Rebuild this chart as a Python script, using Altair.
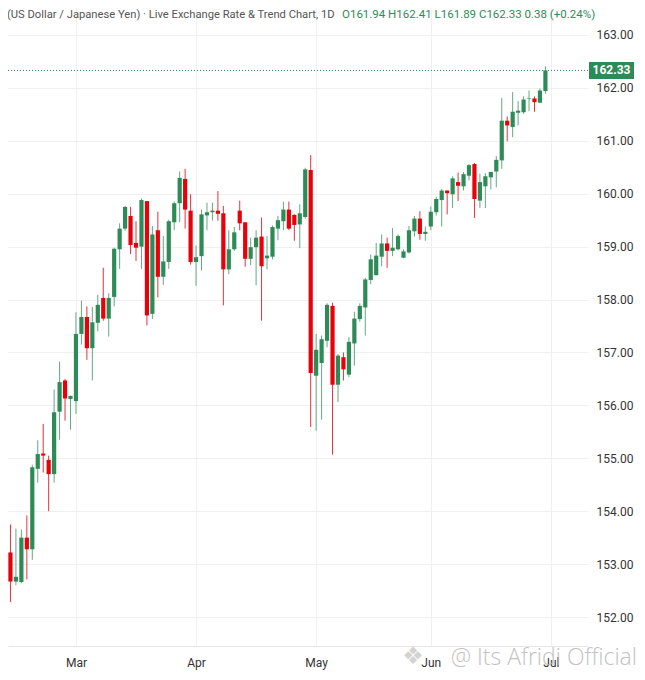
import altair as alt
import pandas as pd

# ---- data (one entry per daily candle) ----
opens = [153.22, 152.67, 152.66, 153.50, 153.28, 154.80, 155.09, 154.97, 154.70, 155.88,
         156.47, 156.12, 156.08, 157.35, 157.67, 157.08, 157.56, 158.03, 157.64, 158.05,
         158.95, 159.34, 159.58, 159.07, 159.00, 159.86, 157.73, 159.31, 158.43, 158.71,
         159.46, 159.82, 160.28, 159.68, 158.71, 158.82, 159.59, 159.65, 159.68, 159.63,
         158.57, 158.95, 159.68, 159.46, 158.77, 158.99, 159.19, 158.78, 158.81, 159.34,
         159.48, 159.70, 159.60, 159.42, 159.56, 160.45, 156.56, 156.80, 157.22, 157.88,
         156.39, 156.91, 156.58, 157.17, 157.63, 157.85, 158.37, 158.46, 158.81, 159.06,
         158.92, 158.95, 158.79, 158.89, 159.29, 159.53, 159.24, 159.38, 159.65, 159.88,
         160.06, 159.99, 160.22, 160.14, 160.34, 160.56, 159.87, 160.14, 160.31, 160.42,
         160.63, 161.38, 161.26, 161.53, 161.54, 161.79, 161.80, 161.72, 161.94]
highs = [153.75, 153.67, 153.65, 153.92, 154.88, 155.34, 155.65, 155.05, 156.30, 156.83,
         156.50, 156.18, 157.76, 157.98, 157.87, 157.86, 158.09, 158.60, 158.12, 158.98,
         159.44, 159.77, 159.75, 159.48, 159.91, 159.86, 159.39, 159.66, 159.20, 159.51,
         159.85, 160.42, 160.47, 159.99, 159.02, 159.70, 159.83, 159.83, 160.05, 159.77,
         159.31, 159.37, 159.87, 159.46, 159.17, 159.31, 159.55, 159.20, 159.40, 159.58,
         159.85, 159.85, 159.61, 159.80, 160.49, 160.73, 157.35, 157.32, 157.93, 157.94,
         156.97, 157.00, 157.29, 157.77, 157.93, 158.41, 158.85, 159.07, 159.23, 159.17,
         159.35, 159.23, 158.95, 159.39, 159.58, 159.67, 159.38, 159.76, 159.94, 160.09,
         160.06, 160.33, 160.40, 160.41, 160.56, 160.58, 160.38, 160.39, 160.41, 160.71,
         161.81, 161.46, 161.92, 161.75, 161.84, 161.95, 161.84, 161.99, 162.41]
lows = [152.28, 152.60, 152.64, 152.71, 153.08, 154.54, 154.73, 154.00, 154.54, 155.35,
        155.71, 155.54, 155.84, 157.15, 156.86, 156.47, 157.40, 157.60, 157.30, 157.87,
        158.58, 159.30, 158.86, 158.73, 158.58, 157.51, 157.63, 158.04, 158.28, 158.58,
        159.31, 159.46, 159.34, 158.66, 158.26, 158.55, 159.31, 159.49, 159.49, 157.89,
        158.48, 158.92, 159.31, 158.62, 158.65, 158.27, 157.60, 158.57, 158.76, 159.12,
        159.31, 159.31, 159.11, 158.97, 159.53, 155.59, 155.52, 155.73, 157.10, 155.07,
        156.06, 156.47, 156.53, 156.75, 157.58, 157.32, 158.29, 158.46, 158.63, 158.60,
        158.82, 158.93, 158.78, 158.87, 159.19, 159.13, 159.11, 159.31, 159.59, 159.38,
        159.61, 159.73, 159.86, 160.06, 160.25, 159.54, 159.73, 159.73, 160.08, 160.12,
        160.47, 160.99, 161.07, 161.29, 161.51, 161.56, 161.55, 161.72, 161.89]
closes = [152.67, 152.76, 153.50, 153.28, 154.83, 155.08, 155.05, 154.70, 155.87, 156.44,
          156.13, 156.18, 157.35, 157.67, 157.08, 157.57, 157.90, 157.64, 158.03, 158.96,
          159.34, 159.75, 159.03, 158.98, 159.88, 157.70, 159.23, 158.43, 158.72, 159.48,
          159.82, 160.30, 159.70, 158.71, 158.80, 159.61, 159.65, 159.68, 159.62, 158.57,
          158.95, 159.27, 159.44, 158.77, 158.99, 159.17, 158.63, 158.83, 159.37, 159.50,
          159.70, 159.34, 159.41, 159.63, 160.46, 156.61, 157.05, 157.25, 157.90, 156.39,
          156.94, 156.68, 157.20, 157.64, 157.88, 158.38, 158.76, 158.83, 159.06, 158.92,
          158.98, 159.20, 158.91, 159.31, 159.53, 159.24, 159.28, 159.66, 159.90, 160.06,
          160.01, 160.29, 160.15, 160.37, 160.54, 159.90, 160.22, 160.33, 160.41, 160.64,
          161.38, 161.29, 161.55, 161.57, 161.78, 161.80, 161.73, 161.95, 162.33]

month_ticks = [12, 34, 56, 77, 99]
month_names = ["Mar", "Apr", "May", "Jun", "Jul"]
price_ticks = [152, 153, 154, 155, 156, 157, 158, 159, 160, 161, 162, 163]
last_price = [162.33]
title_main = ["(US Dollar / Japanese Yen) · Live Exchange Rate & Trend Chart, 1D"]
title_ohlc = ["O161.94  H162.41  L161.89  C162.33  0.38 (+0.24%)"]
watermark = ["@ Its Afridi Official"]
logo = ["❖"]

# ---- styling ----
W, H = 580, 638
GREEN, RED = "#2e8b57", "#e8000b"
GREEN_WICK, RED_WICK = "#62a982", "#e8323a"
FONT = "Roboto"

df = pd.DataFrame({
    "i": list(range(len(opens))),
    "open": opens, "high": highs, "low": lows, "close": closes,
})

label_expr = "[" + ",".join(f"'{m}'" for m in month_names) + "][indexof([" + \
    ",".join(str(t) for t in month_ticks) + "], datum.value)]"

xs = alt.Scale(domain=[-0.45, 105.8], nice=False, zero=False)
ys = alt.Scale(domain=[151.452, 163.51], nice=False, zero=False)

x_enc = alt.X("i:Q", scale=xs, axis=alt.Axis(
    values=month_ticks, labelExpr=label_expr, title=None, grid=True,
    gridColor="#f0f0f0", domain=True, domainColor="#e6e6e6", ticks=False,
    labelFontSize=12, labelColor="#333333", labelPadding=11, labelFont=FONT))
y_axis = alt.Axis(values=price_ticks, format=".2f", orient="right", title=None,
                  grid=True, gridColor="#f0f0f0", domain=False, ticks=False,
                  labelFontSize=12, labelColor="#333333", labelPadding=8, labelFont=FONT)

up = "datum.close >= datum.open"
base = alt.Chart(df)
wicks = base.mark_rule(strokeWidth=1).encode(
    x=x_enc, y=alt.Y("low:Q", scale=ys, axis=y_axis), y2="high:Q",
    color=alt.condition(up, alt.value(GREEN_WICK), alt.value(RED_WICK)))
bodies = base.mark_rule(strokeWidth=4.2, strokeCap="butt").encode(
    x="i:Q", y="open:Q", y2="close:Q",
    color=alt.condition(up, alt.value(GREEN), alt.value(RED)))

pdf = pd.DataFrame({"p": last_price})
pbase = alt.Chart(pdf)
dotted = pbase.mark_rule(color=GREEN, strokeDash=[1, 2], strokeWidth=1).encode(
    y="p:Q", x=alt.value(0), x2=alt.value(W))
box = pbase.mark_rule(color=GREEN, strokeWidth=17, strokeCap="butt").encode(
    y="p:Q", x=alt.value(W + 1), x2=alt.value(W + 46))
box_text = pbase.mark_text(color="white", fontSize=12, font=FONT, fontWeight="bold",
                           align="center", baseline="middle").encode(
    y="p:Q", x=alt.value(W + 23.5), text=alt.Text("p:Q", format=".2f"))

t1 = alt.Chart(pd.DataFrame({"t": title_main})).mark_text(
    align="left", baseline="middle", fontSize=11.2, font=FONT, color="#555555").encode(
    text="t:N", x=alt.value(-1), y=alt.value(7))
t2 = alt.Chart(pd.DataFrame({"t": title_ohlc})).mark_text(
    align="left", baseline="middle", fontSize=11.5, font=FONT, color=GREEN).encode(
    text="t:N", x=alt.value(334), y=alt.value(7))

wm = alt.Chart(pd.DataFrame({"t": watermark})).mark_text(
    align="right", baseline="alphabetic", fontSize=23, font="Open Sans", fontWeight=300,
    color="#b8b8b8", opacity=0.85).encode(text="t:N", x=alt.value(629), y=alt.value(657))
wm_logo = alt.Chart(pd.DataFrame({"t": logo})).mark_text(
    align="center", baseline="alphabetic", fontSize=24, font="DejaVu Sans",
    color="#cccccc", opacity=0.85).encode(text="t:N", x=alt.value(405), y=alt.value(656))

chart = alt.layer(wicks, bodies, dotted, box, box_text, t1, t2, wm, wm_logo).properties(
    width=W, height=H,
    autosize=alt.AutoSizeParams(type="none"),
    padding={"left": 0, "top": 0, "right": 49, "bottom": 24},
    background="white",
).configure_view(stroke=None)

chart.save("out.html", embed_options={"renderer": "svg", "actions": False})
